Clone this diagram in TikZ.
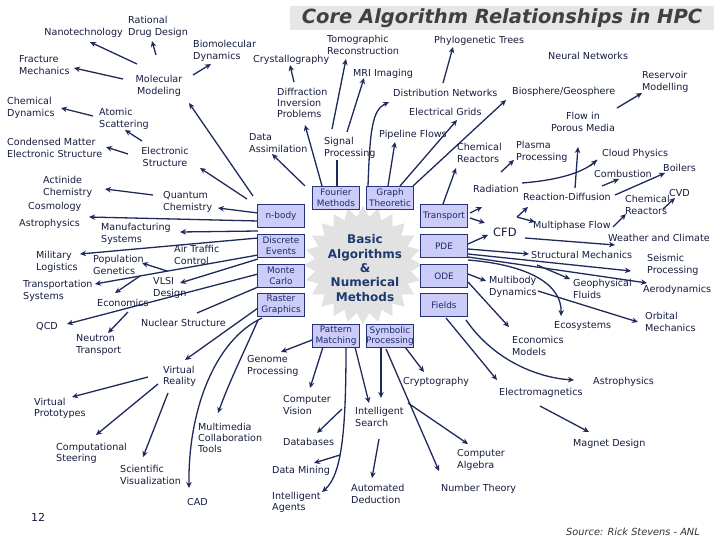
\documentclass[tikz,border=0pt]{standalone}
\usepackage{fontspec}
\setmainfont{DejaVu Sans}
\usetikzlibrary{arrows.meta,shapes.geometric}
\definecolor{arrowc}{RGB}{30,42,92}
\definecolor{txtc}{RGB}{22,28,62}
\definecolor{boxf}{RGB}{204,204,248}
\definecolor{boxb}{RGB}{40,50,120}
\definecolor{boxt}{RGB}{28,43,106}
\definecolor{starc}{RGB}{226,226,226}
\definecolor{ctrc}{RGB}{30,58,112}
\definecolor{titlebg}{RGB}{230,230,230}
\definecolor{titletx}{RGB}{64,64,64}
\tikzset{
 lbl/.style={font=\fontsize{9.6}{11.3}\selectfont, text=txtc, inner sep=0pt, align=left, anchor=west},
 lblc/.style={lbl, align=center, anchor=center},
 ar/.style={draw=arrowc, line width=1.3pt, -{Stealth[length=6pt,width=5.5pt]}},
 ln/.style={draw=arrowc, line width=1.3pt},
 algbox/.style={draw=boxb, line width=0.8pt, fill=boxf, minimum width=47pt, minimum height=23pt, inner sep=0pt, align=center, text=boxt, font=\fontsize{8.9}{10.8}\selectfont},
}
\begin{document}
\begin{tikzpicture}[x=1pt,y=-1pt]
\useasboundingbox[fill=white] (0,0) rectangle (720,540);
% title
\fill[titlebg] (290,6) rectangle (714,30);
\node[font=\fontsize{19.5}{22}\selectfont\bfseries\itshape, text=titletx, inner sep=0pt] (title) at (502,18) {Core Algorithm Relationships in HPC};
% star
\node[star, star points=24, star point ratio=1.22, fill=starc, minimum size=118pt, inner sep=0pt] (star) at (363,265) {};
\node[font=\fontsize{12}{14.3}\selectfont\bfseries, text=ctrc, align=center, inner sep=0pt] (basic) at (365,268) {Basic\\Algorithms\\\&\\Numerical\\Methods};

% ---------- arrows ----------
% top-left
\draw[ar] (137,64) -- (90,42);
\draw[ar] (156,55) -- (152,41);
\draw[ar] (193,75) -- (211,64);
\draw[ar] (123,79) -- (74,68);
\draw[ar] (253,196) -- (189,103);
\draw[ar] (93,116) -- (61,108);
\draw[ar] (142,141) -- (125,130);
\draw[ar] (128,154) -- (106,147);
\draw[ar] (247,199) -- (200,168);
\draw[ar] (153,195) -- (105,189);
\draw[ar] (258,213) -- (218,208);
\draw[ar] (258,221) -- (89,217);
\draw[ar] (258,231) -- (180,232);
\draw[ar] (258,238) -- (80,254);
\draw[ar] (258,255) -- (95,284);
\draw[ar] (167,271) -- (142,263);
\draw[ar] (140,276) -- (115,293);
\draw[ar] (258,259) -- (180,283);
\draw[ar] (258,274) -- (67,324);
\draw[ar] (128,312) -- (108,333);
\draw[ln] (258,287) -- (197,313);
\draw[ar] (258,308) -- (185,360);
\draw[ar] (148,377) -- (72,397);
\draw[ar] (158,384) -- (96,435);
\draw[ar] (168,393) -- (143,457);
\draw[ar] (258,320) .. controls (245,350) and (230,380) .. (218,413);
\draw[ar] (262,318) .. controls (215,340) and (188,410) .. (189,488);
% bottom
\draw[ar] (312,340) -- (281,352);
\draw[ar] (323,347) -- (310,388);
\draw[ar] (346,347) .. controls (346,430) and (342,475) .. (322,492);
\draw[ar] (342,409) -- (317,433);
\draw[ar] (340,455) -- (314,463);
\draw[ar] (355,347) -- (369,403);
\draw[ar] (381,347) -- (381,398);
\draw[ar] (379,439) -- (372,478);
\draw[ar] (405,347) -- (424,372);
\draw[ar] (386,349) -- (439,471);
\draw[ar] (408,403) -- (468,444);
% right
\draw[ar] (443,204) -- (456,168);
\draw[ar] (470,213) -- (482,207);
\draw[ar] (470,218) -- (485,223);
\draw[ar] (468,244) -- (488,235);
\draw[ln] (522,183) .. controls (560,180) and (585,172) .. (597,160);
\draw[ar] (590,166) -- (597,160);
\draw[ar] (575,188) -- (578,147);
\draw[ar] (501,172) -- (514,160);
\draw[ar] (617,108) -- (642,93);
\draw[ar] (602,186) -- (619,179);
\draw[ar] (615,195) -- (665,173);
\draw[ar] (663,209) -- (675,198);
\draw[ar] (613,227) -- (626,214);
\draw[ar] (517,217) -- (528,207);
\draw[ar] (517,217) -- (535,222);
\draw[ar] (525,238) -- (615,245);
\draw[ar] (468,249) -- (529,254);
\draw[ar] (468,254) -- (631,271);
\draw[ar] (468,257) -- (647,283);
\draw[ar] (537,265) -- (570,279);
\draw[ar] (468,260) .. controls (530,265) and (562,285) .. (561,316);
\draw[ar] (538,291) -- (638,322);
\draw[ar] (468,274) -- (486,281);
\draw[ar] (468,282) -- (509,327);
\draw[ar] (446,318) -- (497,380);
\draw[ar] (466,320) .. controls (495,362) and (540,378) .. (574,380);
\draw[ar] (540,406) -- (589,432);
% top
\draw[ar] (305,186) -- (272,154);
\draw[ar] (322,186) -- (305,125);
\draw[ln] (337,186) -- (337,160);
\draw[ar] (332,129) -- (346,59);
\draw[ar] (347,132) -- (364,78);
\draw[ar] (294,82) -- (290,65);
\draw[ar] (368,186) .. controls (370,130) and (372,110) .. (389,102);
\draw[ar] (388,186) -- (395,142);
\draw[ar] (400,186) -- (457,120);
\draw[ar] (413,186) -- (506,100);
\draw[ar] (443,83) -- (453,47);

% ---------- boxes ----------
\node[algbox] (fourier) at (336,198) {Fourier\\Methods};
\node[algbox] (graph) at (390,198) {Graph\\Theoretic};
\node[algbox] (nbody) at (281,216) {n-body};
\node[algbox] (discrete) at (281,246) {Discrete\\Events};
\node[algbox] (monte) at (281,276) {Monte\\Carlo};
\node[algbox] (raster) at (281,305) {Raster\\Graphics};
\node[algbox] (transport) at (444,216) {Transport};
\node[algbox] (pde) at (444,246) {PDE};
\node[algbox] (ode) at (444,276) {ODE};
\node[algbox] (fields) at (444,305) {Fields};
\node[algbox] (pattern) at (336,336) {Pattern\\Matching};
\node[algbox] (symbolic) at (390,336) {Symbolic\\Processing};

% ---------- labels ----------
\node[lbl, anchor=east] (nano) at (123,33) {Nanotechnology};
\node[lbl] (drug) at (128,27) {Rational\\Drug Design};
\node[lbl] (biomol) at (193,51) {Biomolecular\\Dynamics};
\node[lbl] (fract) at (19,65) {Fracture\\Mechanics};
\node[lblc] (molmod) at (159,86) {Molecular\\Modeling};
\node[lbl] (chemdyn) at (7,108) {Chemical\\Dynamics};
\node[lbl] (atomic) at (99,119) {Atomic\\Scattering};
\node[lbl] (condm) at (7,148) {Condensed Matter\\Electronic Structure};
\node[lblc] (elecstr) at (165,157) {Electronic\\Structure};
\node[lbl] (actin) at (43,187) {Actinide\\Chemistry};
\node[lbl] (cosmo) at (28,207) {Cosmology};
\node[lbl] (quant) at (163,202) {Quantum\\Chemistry};
\node[lbl] (astroA) at (19,224) {Astrophysics};
\node[lbl] (manuf) at (101,234) {Manufacturing\\Systems};
\node[lbl] (milit) at (36,262) {Military\\Logistics};
\node[lbl] (airtr) at (174,255) {Air Traffic\\Control};
\node[lbl] (popgen) at (93,265) {Population\\Genetics};
\node[lbl] (transp) at (23,291) {Transportation\\Systems};
\node[lbl] (vlsi) at (153,288) {VLSI\\Design};
\node[lbl] (econ) at (97,303) {Economics};
\node[lbl] (qcd) at (36,327) {QCD};
\node[lbl] (nucl) at (141,323) {Nuclear Structure};
\node[lbl] (neutr) at (76,345) {Neutron\\Transport};
\node[lbl] (vr) at (163,376) {Virtual\\Reality};
\node[lbl] (vproto) at (34,408) {Virtual\\Prototypes};
\node[lbl] (compst) at (56,453) {Computational\\Steering};
\node[lbl] (scivis) at (120,475) {Scientific\\Visualization};
\node[lbl] (multim) at (198,438) {Multimedia\\Collaboration\\Tools};
\node[lbl] (cad) at (187,502) {CAD};
\node[lbl, font=\fontsize{11}{12}\selectfont] (pagenum) at (31,517) {12};
\node[lbl] (genome) at (247,366) {Genome\\Processing};
\node[lbl] (compvis) at (283,405) {Computer\\Vision};
\node[lbl] (datab) at (283,442) {Databases};
\node[lbl] (datam) at (272,471) {Data Mining};
\node[lbl] (intag) at (272,502) {Intelligent\\Agents};
\node[lbl] (intse) at (355,417) {Intelligent\\Search};
\node[lbl] (autod) at (351,494) {Automated\\Deduction};
\node[lbl] (crypt) at (403,382) {Cryptography};
\node[lbl] (compal) at (457,460) {Computer\\Algebra};
\node[lbl] (numth) at (441,489) {Number Theory};
\node[lbl] (elmag) at (499,393) {Electromagnetics};
\node[lbl] (astroB) at (593,382) {Astrophysics};
\node[lbl] (magnet) at (573,444) {Magnet Design};
\node[lbl] (econm) at (512,346) {Economics\\Models};
\node[lbl] (ecosys) at (554,326) {Ecosystems};
\node[lbl] (orbit) at (645,322) {Orbital\\Mechanics};
\node[lbl] (multib) at (489,287) {Multibody\\Dynamics};
\node[lbl] (geoph) at (573,289) {Geophysical\\Fluids};
\node[lbl] (aero) at (643,290) {Aerodynamics};
\node[lbl] (seism) at (647,265) {Seismic\\Processing};
\node[lbl] (struct) at (531,255) {Structural Mechanics};
\node[lbl] (weather) at (608,238) {Weather and Climate};
\node[lbl, font=\fontsize{11.5}{13}\selectfont] (cfd) at (493,232) {CFD};
\node[lbl] (multiph) at (533,226) {Multiphase Flow};
\node[lbl] (reacdif) at (523,197) {Reaction-Diffusion};
\node[lbl] (chemrB) at (625,205) {Chemical\\Reactors};
\node[lbl] (cvd) at (669,193) {CVD};
\node[lbl] (radia) at (473,189) {Radiation};
\node[lbl] (combu) at (594,174) {Combustion};
\node[lbl] (boil) at (663,168) {Boilers};
\node[lbl] (cloud) at (602,154) {Cloud Physics};
\node[lbl] (plasma) at (516,152) {Plasma\\Processing};
\node[lbl] (chemrA) at (457,153) {Chemical\\Reactors};
\node[lblc] (porous) at (583,122) {Flow in\\Porous Media};
\node[lbl] (biosph) at (512,92) {Biosphere/Geosphere};
\node[lbl] (reserv) at (642,82) {Reservoir\\Modelling};
\node[lbl] (neural) at (548,56) {Neural Networks};
\node[lbl] (phylo) at (434,41) {Phylogenetic Trees};
\node[lbl] (distr) at (393,93) {Distribution Networks};
\node[lbl] (elgrid) at (409,112) {Electrical Grids};
\node[lbl] (pipe) at (379,135) {Pipeline Flows};
\node[lbl] (sigp) at (324,148) {Signal\\Processing};
\node[lbl] (dataas) at (249,143) {Data\\Assimilation};
\node[lbl] (diffr) at (277,103) {Diffraction\\Inversion\\Problems};
\node[lbl] (cryst) at (253,60) {Crystallography};
\node[lbl] (tomo) at (327,45) {Tomographic\\Reconstruction};
\node[lbl] (mri) at (353,74) {MRI Imaging};
\node[lbl, font=\fontsize{9.8}{11}\selectfont\itshape, text=black!80] (source) at (566,532) {Source: Rick Stevens - ANL};
\end{tikzpicture}
\end{document}
